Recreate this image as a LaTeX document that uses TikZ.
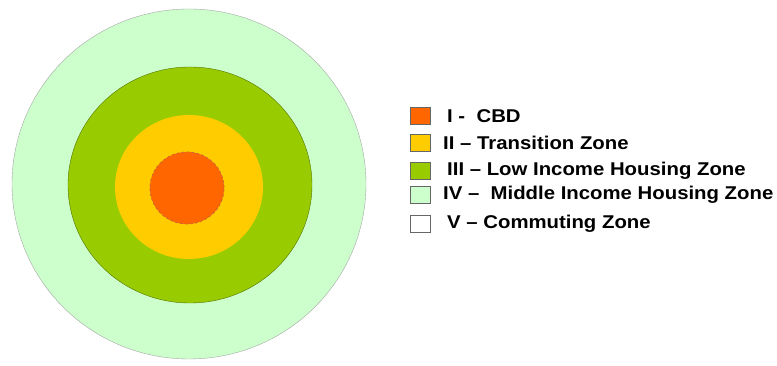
\documentclass[tikz,border=0pt]{standalone}
\usepackage{fontspec}
\setmainfont{Liberation Sans}[FakeStretch=1.1]
\usetikzlibrary{positioning}
\definecolor{cbdorange}{RGB}{255, 102, 0}
\definecolor{cbdedge}{RGB}{204, 102, 51}
\definecolor{transyellow}{RGB}{255, 204, 0}
\definecolor{lowgreen}{RGB}{153, 204, 0}
\definecolor{midgreen}{RGB}{204, 255, 204}
\tikzset{
  keybox/.style={draw=gray!80!black, thick, minimum width=20pt, minimum height=17pt, inner sep=0pt},
  keytext/.style={anchor=west, inner sep=0pt, font=\bfseries\fontsize{18.5}{20}\selectfont}
}

\begin{document}
\begin{tikzpicture}[x=1pt, y=1pt]
            \fill[white] (0,0) rectangle (777,366);
            \useasboundingbox (0,0) rectangle (777,366);
            % zones, outside in
            \filldraw[color=gray!70,        fill=midgreen,    thin      ](189,182) ellipse (177pt and 175pt);
            \filldraw[color=black!45!lowgreen, fill=lowgreen, thin      ](190,181) ellipse (122pt and 118pt);
            \fill[transyellow]                                           (189,179) ellipse (74pt  and 72pt);
            \filldraw[color=cbdedge,        fill=cbdorange,   thick, densely dashed](187,178) ellipse (37pt  and 36pt);
            % legend
            \node[keybox, fill=cbdorange]   (k1) at (420,250) {};
            \node[keybox, fill=transyellow] (k2) at (420,223) {};
            \node[keybox, fill=lowgreen]    (k3) at (420,195) {};
            \node[keybox, fill=midgreen]    (k4) at (420,171) {};
            \node[keybox, fill=white]       (k5) at (420,142) {};
            \node[keytext] (t1) at (447,250) {I -\ \ CBD};
            \node[keytext] (t2) at (443,223) {II – Transition Zone};
            \node[keytext] (t3) at (447,195) {III – Low Income Housing Zone};
            \node[keytext] (t4) at (443,171) {IV –\ \ Middle Income Housing Zone};
            \node[keytext] (t5) at (447,142) {V – Commuting Zone};
\end{tikzpicture}
\end{document}
